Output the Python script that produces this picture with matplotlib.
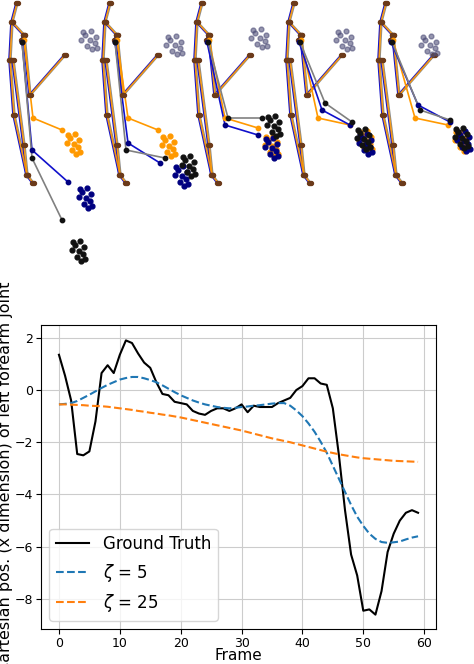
import matplotlib
matplotlib.use("Agg")
import matplotlib.pyplot as plt
import numpy as np

frames = list(range(60))
ground_truth = [1.35,0.55,-0.4,-2.45,-2.5,-2.35,-1.2,0.65,0.95,0.65,1.35,1.9,1.8,1.4,1.05,0.85,0.3,-0.15,-0.2,-0.45,
                -0.5,-0.55,-0.8,-0.9,-0.95,-0.8,-0.7,-0.7,-0.8,-0.7,-0.55,-0.85,-0.6,-0.65,-0.65,-0.65,-0.5,-0.4,-0.3,0.0,
                0.15,0.45,0.45,0.25,0.2,-0.7,-2.5,-4.6,-6.3,-7.1,-8.45,-8.4,-8.6,-7.7,-6.2,-5.5,-5.0,-4.7,-4.6,-4.7]
zeta5 = [-0.55,-0.53,-0.5,-0.42,-0.3,-0.18,-0.05,0.08,0.2,0.3,0.4,0.46,0.5,0.5,0.45,0.38,0.3,0.18,0.05,-0.08,
         -0.2,-0.3,-0.4,-0.48,-0.55,-0.6,-0.65,-0.68,-0.7,-0.68,-0.65,-0.63,-0.6,-0.58,-0.55,-0.52,-0.5,-0.5,-0.6,-0.78,
         -1.0,-1.28,-1.6,-1.98,-2.4,-2.9,-3.4,-3.9,-4.4,-4.85,-5.2,-5.5,-5.7,-5.82,-5.85,-5.83,-5.8,-5.72,-5.65,-5.6]
zeta25 = [-0.55,-0.55,-0.56,-0.57,-0.58,-0.6,-0.61,-0.62,-0.64,-0.67,-0.7,-0.73,-0.76,-0.8,-0.83,-0.87,-0.9,-0.94,-0.97,-1.01,
          -1.05,-1.1,-1.15,-1.2,-1.25,-1.3,-1.35,-1.4,-1.45,-1.5,-1.55,-1.61,-1.67,-1.73,-1.79,-1.85,-1.9,-1.95,-2.0,-2.06,
          -2.12,-2.18,-2.24,-2.3,-2.36,-2.41,-2.46,-2.5,-2.54,-2.58,-2.61,-2.63,-2.65,-2.67,-2.69,-2.71,-2.72,-2.73,-2.74,-2.75]

# skeleton data (image pixel coords, y downward)
body_dx = [0, 93, 185, 277, 369]
body_joints = {
    "spine": [(17,3),(12,22),(10,60)],
    "leg1": [(10,60),(14,115),(27,175),(33,183)],
    "leg2": [(13,60),(24,145),(27,175)],
    "shoulder": [(12,22),(24,35),(22,40)],
    "rarm": [(24,35),(30,95),(65,55)],
}
larm = {
    0: {"#ff9900":[(24,40),(33,118),(62,130),(70,138)],
        "#1010cc":[(22,42),(32,150),(68,182),(82,192)],
        "#808080":[(22,42),(32,158),(62,220),(75,245)]},
    1: {"#ff9900":[(117,40),(128,118),(158,130),(165,140)],
        "#1010cc":[(115,42),(128,143),(160,163),(178,170)],
        "#808080":[(115,42),(126,150),(165,158),(185,160)]},
    2: {"#ff9900":[(209,40),(225,118),(258,128),(268,140)],
        "#1010cc":[(207,42),(225,125),(258,135),(268,142)],
        "#808080":[(208,42),(228,118),(262,118),(270,120)]},
    3: {"#ff9900":[(301,40),(318,118),(350,125),(362,135)],
        "#1010cc":[(299,42),(322,110),(350,125),(362,138)],
        "#808080":[(300,42),(325,103),(352,122),(360,133)]},
    4: {"#ff9900":[(393,40),(415,118),(448,125),(458,135)],
        "#1010cc":[(391,42),(418,105),(450,122),(460,135)],
        "#808080":[(392,42),(420,110),(450,120),(458,132)]},
}
hand_colors = {"#ff9900":"#ff9900","#1010cc":"#000080","#808080":"#111111"}
hand_pattern = [(0,0),(5,-4),(9,2),(4,6),(-3,5),(8,9),(2,12),(10,14),(-2,-3),(6,16)]
upper_hand = [(85,40),(170,45),(255,38),(340,40),(425,45)]

fig = plt.figure(figsize=(4.74,6.64), dpi=100)
ax0 = fig.add_axes([0,(664-265)/664,1,265/664])
ax0.set_xlim(0,474); ax0.set_ylim(265,0); ax0.axis("off")
for i, dx in enumerate(body_dx):
    for col, lw, a in [("#808080",1.0,0.9),("#1010cc",1.2,1),("#ff9900",1.2,0.9)]:
        off = {"#808080":1.0,"#1010cc":-1.0,"#ff9900":0}[col]
        for name, pts in body_joints.items():
            xs = [p[0]+dx+off for p in pts]; ys = [p[1] for p in pts]
            ax0.plot(xs, ys, color=col, lw=lw, alpha=a, zorder=2)
            ax0.scatter(xs, ys, s=8, color="#6b3a1a", zorder=3)
    ux, uy = upper_hand[i]
    ax0.scatter([ux+p[0]*1.2 for p in hand_pattern],[uy+p[1]*0.9-5 for p in hand_pattern],
                s=12, color="#50507a", alpha=0.6, zorder=3)
    for col, pts in larm[i].items():
        xs = [p[0] for p in pts[:3]]; ys = [p[1] for p in pts[:3]]
        ax0.plot(xs, ys, color=col, lw=1.2, zorder=2)
        ax0.scatter(xs, ys, s=10, color=hand_colors[col], zorder=3)
        hx, hy = pts[3]
        ax0.scatter([hx+p[0] for p in hand_pattern],[hy+p[1] for p in hand_pattern],
                    s=12, color=hand_colors[col], zorder=4)

ax = fig.add_axes([41/474, 35/664, 395/474, 304/664])
ax.plot(frames, ground_truth, color="black", lw=1.5, label="Ground Truth")
ax.plot(frames, zeta5, color="#1f77b4", ls="--", lw=1.5, label=r"$\zeta$ = 5")
ax.plot(frames, zeta25, color="#ff7f0e", ls="--", lw=1.5, label=r"$\zeta$ = 25")
ax.set_ylim(-9.15, 2.49)
ax.set_xticks([0,10,20,30,40,50,60])
ax.set_yticks([2,0,-2,-4,-6,-8])
ax.tick_params(labelsize=9, pad=2)
ax.grid(True, color="#cccccc")
ax.set_xlabel("Frame", fontsize=11, labelpad=-1)
ax.set_ylabel("Cartesian pos. (x dimension) of left forearm joint", fontsize=11.5, labelpad=1)
ax.legend(loc="lower left", fontsize=12)
fig.savefig("out.png", dpi=100)
